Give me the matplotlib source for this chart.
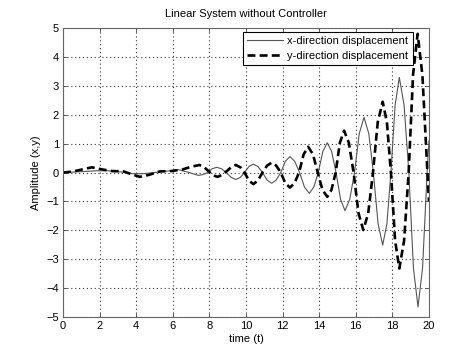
import matplotlib
matplotlib.use("Agg")
import matplotlib.pyplot as plt

plt.rcParams['font.family'] = ['Liberation Sans', 'DejaVu Sans']

# x-direction displacement (solid)
t_x = [0, 1.0, 1.8, 2.5, 3.2, 3.8, 4.4, 5.0, 5.7, 6.3, 6.9,
       7.4, 7.65, 7.9, 8.15, 8.4, 8.66, 8.92, 9.19, 9.45, 9.69, 9.92, 10.16,
       10.4, 10.65, 10.9, 11.15, 11.4, 11.65, 11.9, 12.15, 12.4, 12.66, 12.93,
       13.2, 13.46, 13.7, 13.95, 14.2, 14.44, 14.68, 14.92, 15.17, 15.41, 15.67,
       15.93, 16.19, 16.45, 16.71, 16.96, 17.22, 17.47, 17.7, 17.92, 18.15,
       18.38, 18.64, 18.9, 19.15, 19.4, 19.65, 19.9, 20.0]
x_disp = [0, 0.03, 0.06, 0.06, 0.02, -0.04, -0.04, 0.0, 0.05, 0.1, 0.0,
          -0.1, -0.07, 0.0, 0.13, 0.18, 0.13, 0.0, -0.17, -0.24, -0.17, 0.0, 0.21,
          0.29, 0.21, 0.0, -0.26, -0.37, -0.26, 0.0, 0.39, 0.55, 0.39, 0.0,
          -0.51, -0.72, -0.51, 0.0, 0.73, 1.03, 0.73, 0.0, -0.93, -1.32, -0.93,
          0.0, 1.35, 1.91, 1.35, 0.0, -1.78, -2.51, -1.78, 0.0, 2.33,
          3.29, 2.33, 0.0, -3.3, -4.65, -3.3, 0.0, 1.1]

# y-direction displacement (dashed)
t_y = [0, 0.5, 1.0, 1.57, 2.2, 2.7, 3.3, 3.7, 4.2, 4.7, 5.3, 5.9, 6.5, 7.0,
       7.45, 7.7, 7.95, 8.2, 8.45, 8.7, 8.95, 9.2, 9.45, 9.69, 9.92, 10.16,
       10.4, 10.65, 10.9, 11.15, 11.4, 11.65, 11.9, 12.15, 12.4, 12.65, 12.9,
       13.15, 13.4, 13.66, 13.92, 14.18, 14.44, 14.67, 14.9, 15.13, 15.36, 15.62,
       15.88, 16.15, 16.41, 16.68, 16.94, 17.2, 17.47, 17.7, 17.92, 18.15,
       18.38, 18.64, 18.89, 19.13, 19.38, 19.64, 19.9, 20.0]
y_disp = [0, 0.03, 0.1, 0.18, 0.1, 0.05, 0.04, -0.05, -0.15, -0.08, 0.04, 0.05, 0.1, 0.2,
          0.26, 0.19, 0.05, -0.1, -0.15, -0.08, 0.05, 0.19, 0.26, 0.18, 0.0, -0.28,
          -0.4, -0.28, 0.0, 0.24, 0.34, 0.24, 0.0, -0.37, -0.52, -0.37, 0.0,
          0.63, 0.89, 0.63, 0.0, -0.6, -0.84, -0.6, 0.0, 1.03, 1.45, 1.03,
          0.0, -1.41, -1.99, -1.41, 0.0, 1.74, 2.45, 1.74, 0.0, -2.36,
          -3.32, -2.36, 0.0, 3.38, 4.8, 3.38, 0.2, -1.0]

x_ticks = list(range(0, 21, 2))
y_ticks = list(range(-5, 6, 1))

fig = plt.figure(figsize=(4.74, 3.55), dpi=100)
ax = fig.add_axes([0.133, 0.107, 0.772, 0.814])

ax.plot(t_x, x_disp, color='#555555', lw=0.8, label='x-direction displacement')
ax.plot(t_y, y_disp, color='black', lw=1.9, dashes=(3, 1.6),
        label='y-direction displacement')

ax.set_xlim(0, 20)
ax.set_ylim(-5, 5)
ax.set_xticks(x_ticks)
ax.set_yticks(y_ticks)
ax.tick_params(direction='in', top=True, right=True, labelsize=8,
               length=3, width=0.6, color='#444444', pad=3)
for s in ax.spines.values():
    s.set_color('#666666')
    s.set_linewidth(0.8)
ax.grid(True, linestyle=(0, (1, 2.5)), color='#333333', linewidth=0.8)

ax.set_title('Linear System without Controller', fontsize=8, pad=8)
ax.set_xlabel('time (t)', fontsize=8, labelpad=2)
ax.set_ylabel('Amplitude (x,y)', fontsize=8, labelpad=4)

leg = ax.legend(loc='upper right', bbox_to_anchor=(0.956, 0.988), fontsize=8,
                fancybox=False, framealpha=1, edgecolor='black', borderaxespad=0,
                handlelength=3.2, borderpad=0.4, labelspacing=0.45,
                handletextpad=0.4)
leg.get_frame().set_linewidth(0.8)

fig.savefig('out.png', dpi=100, facecolor='white')
